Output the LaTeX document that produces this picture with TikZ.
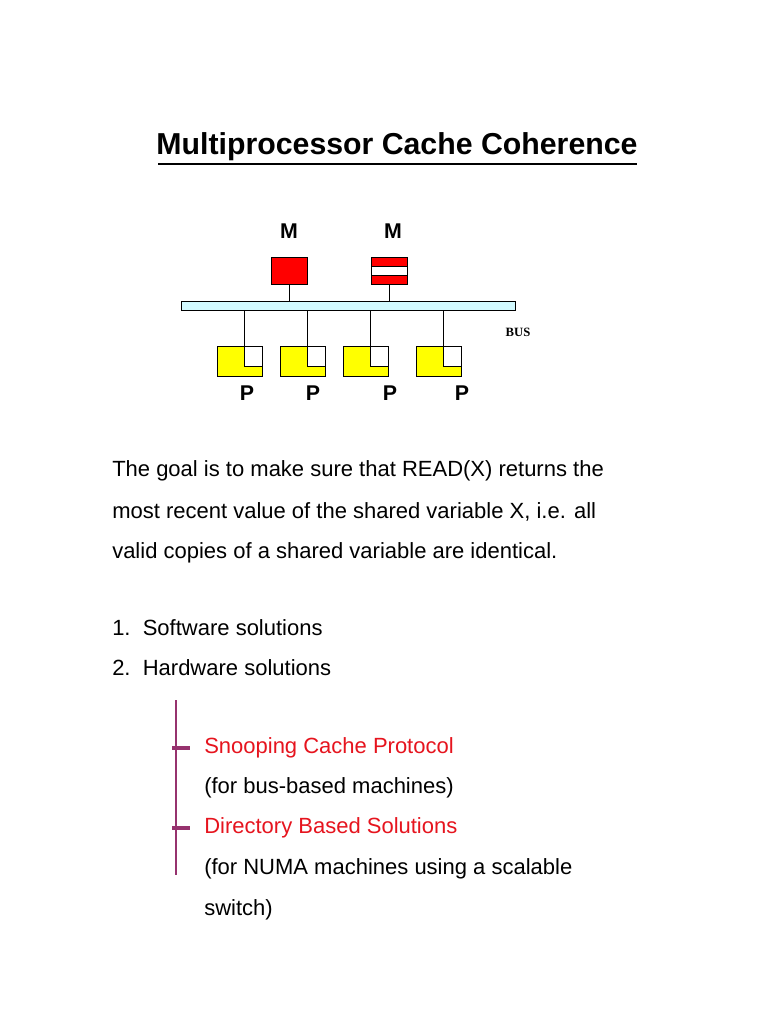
\documentclass[tikz,border=0pt]{standalone}
\usepackage{fontspec}
\setmainfont{Liberation Sans}
\newfontfamily\serifb{Liberation Serif}
\definecolor{tred}{RGB}{230,20,30}
\definecolor{mred}{RGB}{255,0,0}
\definecolor{pyel}{RGB}{255,255,0}
\definecolor{bcyan}{RGB}{210,250,255}
\definecolor{purp}{RGB}{150,50,110}
\begin{document}
\begin{tikzpicture}[x=0.75pt,y=-0.75pt,
  txt/.style={anchor=west,inner sep=0,font=\fontsize{16.5}{19}\selectfont},
  red txt/.style={txt,text=tred},
  lbl/.style={inner sep=0,font=\fontsize{16}{19}\selectfont\bfseries},
  pbox/.style={draw=black,line width=0.6pt,fill=pyel},
  wire/.style={draw=black,line width=0.6pt}]
\useasboundingbox (0,0) rectangle (768,1024);
\fill[white] (0,0) rectangle (768,1024);
\node[inner sep=0,font=\fontsize{22.7}{27}\selectfont\bfseries] (title) at (397,147) {Multiprocessor Cache Coherence};
\draw[line width=1.5pt] (158,164) -- (637,164);
\node[lbl] (m1l) at (289,231) {M};
\node[lbl] (m2l) at (393,231) {M};
\draw[wire,fill=mred] (271,257) rectangle (307,284);
\coordinate (m1) at (289,284);
\draw[wire,fill=mred] (371,257) rectangle (407,284);
\draw[wire,fill=white] (371,266) rectangle (407,275);
\coordinate (m2) at (389,284);
\draw[wire,fill=bcyan] (181,301) rectangle (515,310);
\draw[wire] (m1) -- (289,301);
\draw[wire] (m2) -- (389,301);
\node[inner sep=0,font=\serifb\fontsize{9.5}{11}\selectfont\bfseries] (bus) at (518,332) {BUS};
\foreach \l/\c/\px in {217/244/247, 280/307/313, 343/370/390, 416/443/462}{
  \draw[pbox] (\l,346) rectangle (\l+45,376);
  \draw[wire,fill=white] (\c,346) rectangle (\l+45,366);
  \draw[wire] (\c,310) -- (\c,366);
  \node[lbl] at (\px,393) {P};
}
\node[txt] (t1) at (112,471) {The goal is to make sure that READ(X) returns the};
\node[txt] (t2) at (112,512) {most recent value of the shared variable X, i.e. all};
\node[txt] (t3) at (112,553) {valid copies of a shared variable are identical.};
\node[txt] (s1) at (112,628) {1.\ \ Software solutions};
\node[txt] (s2) at (112,668) {2.\ \ Hardware solutions};
\draw[line width=1.2pt,purp] (176,700) -- (176,875);
\draw[line width=2.5pt,purp] (172,748) -- (190,748);
\draw[line width=2.5pt,purp] (172,828) -- (190,828);
\node[red txt] (a1) at (204,748) {Snooping Cache Protocol};
\node[txt] (a2) at (204,788) {(for bus-based machines)};
\node[red txt] (b1) at (204,828) {Directory Based Solutions};
\node[txt] (b2) at (204,869) {(for NUMA machines using a scalable};
\node[txt] (b3) at (204,910) {switch)};
\end{tikzpicture}
\end{document}
